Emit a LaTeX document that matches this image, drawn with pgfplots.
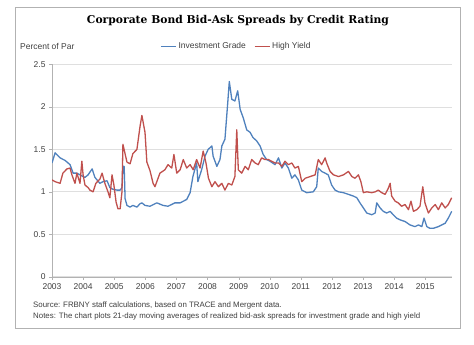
\documentclass[border=0pt]{standalone}
\usepackage{fontspec}
\setmainfont{Liberation Sans}
\newfontfamily\titlefont{DejaVu Serif}
\usepackage{pgfplots}
\pgfplotsset{compat=1.18}
\definecolor{ig}{RGB}{79,129,189}
\definecolor{hy}{RGB}{192,80,77}
\definecolor{txt}{RGB}{64,64,64}
\begin{document}
\begin{tikzpicture}[x=1bp,y=1bp]
\path[fill=white] (0,0) rectangle (474,344);
\draw[gray!60, line width=0.8bp] (15,16) rectangle (460,337);
\node[font=\titlefont\bfseries\fontsize{10.8}{12}\selectfont] at (238,323) {Corporate Bond Bid-Ask Spreads by Credit Rating};
\node[anchor=west, font=\fontsize{8.5}{10}\selectfont, text=txt, inner sep=0pt] at (20,297.3) {Percent of Par};
\begin{axis}[at={(52bp,67.3bp)}, anchor=south west, scale only axis,
  width=400bp, height=212.2bp,
  xmin=2003, xmax=2015.86, ymin=0, ymax=2.5,
  xtick={2003,...,2015}, ytick={0,0.5,1,1.5,2,2.5},
  yticklabels={0,0.5,1,1.5,2,2.5},
  xticklabel style={/pgf/number format/1000 sep=},
  /pgf/number format/assume math mode=true,
  ticklabel style={font=\fontsize{8.5}{10}\selectfont, text=txt},
  axis x line=bottom, axis y line=left,
  axis line style={-, draw=gray!60},
  tick style={gray!60}, tick align=outside, major tick length=3bp,
  ymajorgrids, grid style={gray!25, line width=0.8bp},
  legend style={at={(0.461,1.084)}, anchor=center, draw=none, fill=none,
    legend columns=2, font=\fontsize{8.5}{10}\selectfont, text=txt,
    /tikz/every even column/.append style={column sep=6bp}},
  legend image code/.code={\draw[#1] (0bp,0bp) -- (15bp,0bp);},
]
\addplot[ig, line width=1.3bp, line join=round] coordinates {
(2003.00,1.34) (2003.10,1.46) (2003.26,1.40) (2003.42,1.37) (2003.58,1.32)
(2003.68,1.22) (2003.80,1.22) (2003.90,1.20) (2004.00,1.18) (2004.06,1.17)
(2004.16,1.20) (2004.29,1.27) (2004.38,1.17) (2004.54,1.10) (2004.64,1.12)
(2004.77,1.13) (2004.86,1.05) (2004.96,1.03) (2005.09,1.02) (2005.19,1.02)
(2005.25,1.05) (2005.28,1.30) (2005.32,1.30) (2005.35,0.92) (2005.41,0.84)
(2005.51,0.82) (2005.60,0.84) (2005.73,0.82) (2005.83,0.86) (2005.89,0.87)
(2005.99,0.84) (2006.15,0.83) (2006.37,0.87) (2006.57,0.84) (2006.73,0.83)
(2006.95,0.87) (2007.12,0.87) (2007.33,0.91) (2007.44,0.99) (2007.53,1.18)
(2007.65,1.34) (2007.69,1.12) (2007.81,1.26) (2007.92,1.42) (2008.02,1.50)
(2008.14,1.54) (2008.18,1.42) (2008.30,1.30) (2008.40,1.38) (2008.46,1.54)
(2008.56,1.62) (2008.65,2.05) (2008.70,2.30) (2008.78,2.09) (2008.88,2.07)
(2008.97,2.19) (2009.05,1.97) (2009.15,1.87) (2009.26,1.73) (2009.37,1.70)
(2009.46,1.64) (2009.58,1.60) (2009.69,1.54) (2009.79,1.44) (2009.90,1.38)
(2010.01,1.36) (2010.17,1.32) (2010.28,1.40) (2010.39,1.28) (2010.49,1.34)
(2010.60,1.28) (2010.71,1.16) (2010.81,1.20) (2010.92,1.14) (2011.03,1.02)
(2011.19,0.99) (2011.40,1.00) (2011.51,1.06) (2011.56,1.28) (2011.67,1.24)
(2011.78,1.22) (2011.88,1.20) (2011.99,1.08) (2012.10,1.02) (2012.21,1.00)
(2012.37,0.99) (2012.53,0.97) (2012.69,0.95) (2012.80,0.93) (2012.90,0.87)
(2013.01,0.81) (2013.12,0.75) (2013.28,0.73) (2013.39,0.75) (2013.44,0.87)
(2013.55,0.81) (2013.65,0.77) (2013.76,0.75) (2013.87,0.77) (2013.97,0.73)
(2014.08,0.69) (2014.19,0.67) (2014.35,0.65) (2014.51,0.61) (2014.67,0.59)
(2014.78,0.61) (2014.89,0.59) (2014.96,0.69) (2015.05,0.59) (2015.15,0.57)
(2015.26,0.57) (2015.42,0.59) (2015.53,0.61) (2015.64,0.63) (2015.74,0.69)
(2015.85,0.77)
};
\addlegendentry{Investment Grade}
\addplot[hy, line width=1.3bp, line join=round] coordinates {
(2003.00,1.14) (2003.10,1.12) (2003.26,1.10) (2003.35,1.22) (2003.48,1.27)
(2003.58,1.28) (2003.64,1.20) (2003.74,1.10) (2003.80,1.22) (2003.90,1.10)
(2003.96,1.36) (2004.00,1.20) (2004.06,1.08) (2004.16,1.05) (2004.22,1.02)
(2004.32,1.00) (2004.41,1.10) (2004.54,1.15) (2004.61,1.22) (2004.70,1.10)
(2004.80,1.00) (2004.86,0.93) (2004.93,1.20) (2004.99,1.08) (2005.06,0.88)
(2005.12,0.80) (2005.19,0.80) (2005.25,1.00) (2005.28,1.56) (2005.41,1.35)
(2005.51,1.33) (2005.60,1.45) (2005.73,1.50) (2005.83,1.77) (2005.89,1.90)
(2005.99,1.70) (2006.05,1.35) (2006.15,1.25) (2006.25,1.10) (2006.31,1.06)
(2006.37,1.12) (2006.47,1.22) (2006.63,1.26) (2006.73,1.32) (2006.85,1.28)
(2006.92,1.44) (2007.01,1.22) (2007.12,1.26) (2007.22,1.38) (2007.33,1.28)
(2007.44,1.32) (2007.54,1.26) (2007.65,1.38) (2007.76,1.28) (2007.86,1.48)
(2007.95,1.34) (2008.03,1.16) (2008.14,1.06) (2008.24,1.12) (2008.35,1.06)
(2008.46,1.10) (2008.56,1.02) (2008.67,1.10) (2008.78,1.08) (2008.88,1.18)
(2008.94,1.73) (2008.99,1.26) (2009.10,1.22) (2009.21,1.30) (2009.31,1.26)
(2009.42,1.38) (2009.53,1.34) (2009.63,1.32) (2009.74,1.40) (2009.85,1.38)
(2009.96,1.38) (2010.06,1.36) (2010.17,1.34) (2010.28,1.34) (2010.39,1.30)
(2010.49,1.36) (2010.60,1.32) (2010.71,1.34) (2010.81,1.28) (2010.92,1.30)
(2011.03,1.12) (2011.14,1.16) (2011.30,1.18) (2011.46,1.20) (2011.56,1.38)
(2011.67,1.32) (2011.78,1.40) (2011.83,1.34) (2011.94,1.24) (2012.05,1.20)
(2012.21,1.18) (2012.37,1.20) (2012.53,1.24) (2012.64,1.18) (2012.74,1.16)
(2012.85,1.20) (2012.93,1.12) (2013.01,0.99) (2013.12,1.00) (2013.28,0.99)
(2013.39,1.00) (2013.49,1.02) (2013.60,0.99) (2013.71,0.97) (2013.81,1.04)
(2013.87,1.10) (2013.92,0.95) (2014.03,0.89) (2014.13,0.87) (2014.24,0.83)
(2014.35,0.85) (2014.46,0.79) (2014.54,0.89) (2014.62,0.77) (2014.73,0.79)
(2014.83,0.83) (2014.92,1.06) (2014.99,0.87) (2015.10,0.75) (2015.21,0.81)
(2015.32,0.85) (2015.42,0.79) (2015.53,0.87) (2015.64,0.81) (2015.74,0.85)
(2015.85,0.93)
};
\addlegendentry{High Yield}
\end{axis}
\node[anchor=west, font=\fontsize{7.9}{9}\selectfont, text=txt, inner sep=0pt] at (33,39) {Source: FRBNY staff calculations, based on TRACE and Mergent data.};
\node[anchor=west, font=\fontsize{7.9}{9}\selectfont, text=txt, inner sep=0pt] at (33,28) {Notes: The chart plots 21-day moving averages of realized bid-ask spreads for investment grade and high yield};
\end{tikzpicture}
\end{document}
